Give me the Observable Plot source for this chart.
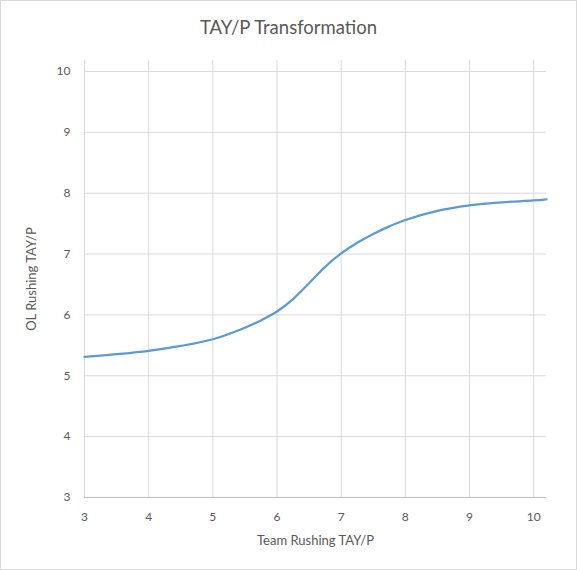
<!DOCTYPE html>
<html>
<head>
<meta charset="utf-8">
<script src="https://cdn.jsdelivr.net/npm/d3@7"></script>
<script src="https://cdn.jsdelivr.net/npm/@observablehq/plot@0.6"></script>
<style>
  body { margin: 0; background: white; }
  #wrap {
    width: 577px; height: 570px; position: relative;
    outline: 1px solid #d9d9d9; outline-offset: -1px;
    font-family: Lato, "Open Sans", sans-serif; color: #595959;
  }
  #title {
    height: 50px; line-height: 54px; text-align: center;
    font-size: 18.5px; color: #595959;
  }
</style>
</head>
<body>
<div id="wrap">
  <div id="title">TAY/P Transformation</div>
  <div id="chart"></div>
</div>
<script>
// values
const teamTayp = [3, 3.5, 4, 4.5, 5, 5.5, 5.75, 6, 6.25, 6.5, 6.75, 7, 7.25, 7.5, 7.75, 8, 8.5, 9, 9.5, 10, 10.2]
const olTayp   = [5.31, 5.355, 5.41, 5.49, 5.6, 5.79, 5.91, 6.055, 6.26, 6.52, 6.79, 7.01, 7.185, 7.33, 7.455, 7.56, 7.71, 7.8, 7.85, 7.88, 7.9]
const xTicks = [3, 4, 5, 6, 7, 8, 9, 10]
const yTicks = [3, 4, 5, 6, 7, 8, 9, 10]

const data = teamTayp.map((x, i) => ({x, y: olTayp[i]}))

let chart = Plot.plot({
  width: 577,
  height: 520,
  marginTop: 10,
  marginBottom: 73,
  marginLeft: 84,
  marginRight: 31,
  x: {domain: [3, 10.2]},
  y: {domain: [3, 10.18]},
  style: {
    fontFamily: 'Lato, "Open Sans", sans-serif',
    color: '#595959',
    background: 'white',
  },
  marks: [
    Plot.gridX(xTicks, {stroke: '#d9d9d9', strokeOpacity: 1, strokeWidth: 1}),
    Plot.gridY(yTicks, {stroke: '#d9d9d9', strokeOpacity: 1, strokeWidth: 1}),
    Plot.ruleY([3], {stroke: '#bfbfbf'}),
    Plot.axisX(xTicks, {
      tickSize: 0, tickPadding: 15, fontSize: 12, tickFormat: 'd',
      label: 'Team Rushing TAY/P', labelAnchor: 'center', labelArrow: 'none', labelOffset: 47,
    }),
    Plot.axisY(yTicks, {
      tickSize: 0, tickPadding: 14, fontSize: 12, tickFormat: 'd',
      label: 'OL Rushing TAY/P', labelAnchor: 'center', labelArrow: 'none', labelOffset: 58,
    }),
    Plot.line(data, {x: 'x', y: 'y', stroke: '#5b9bd5', strokeWidth: 2.25, curve: 'catmull-rom'}),
  ],
})
chart.querySelectorAll('g[aria-label="x-axis label"] text, g[aria-label="y-axis label"] text')
  .forEach(t => t.setAttribute('font-size', '13'))
d3.select('#chart').append(() => chart)
</script>
</body>
</html>
